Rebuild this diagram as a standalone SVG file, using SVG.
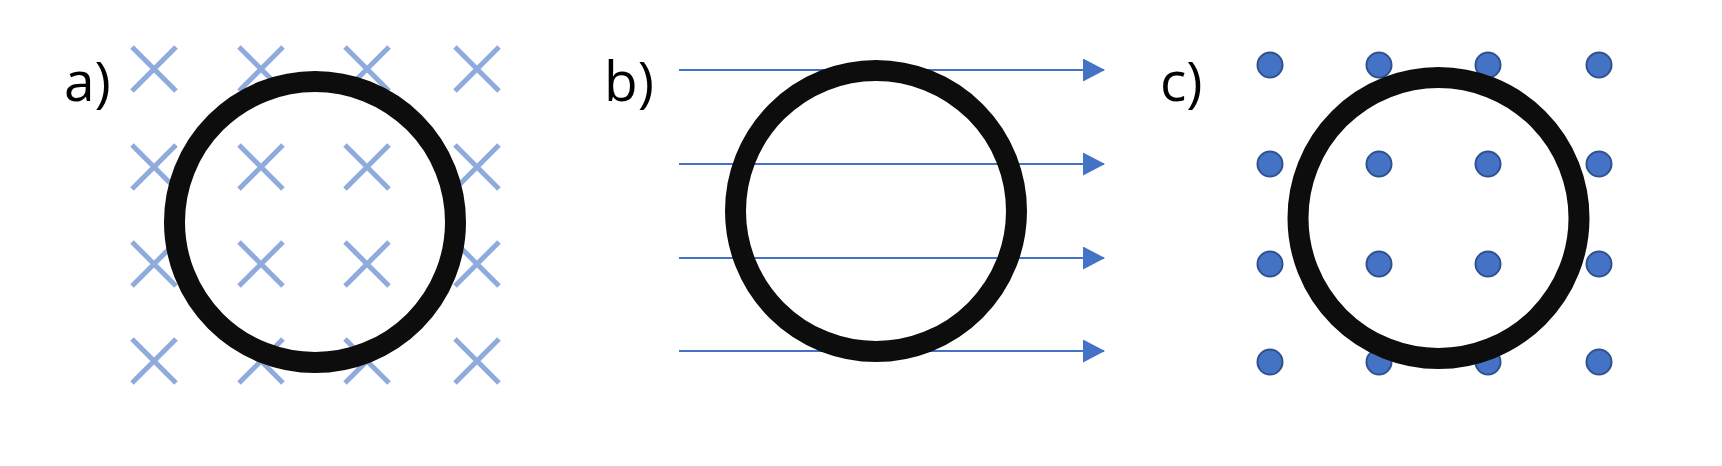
<svg xmlns="http://www.w3.org/2000/svg" width="1722" height="466" viewBox="0 0 1722 466">
<style>
.lbl{font-family:"Open Sans","Liberation Sans",sans-serif;font-size:55px;fill:#000}
.ring{fill:none;stroke:#0d0d0d;stroke-width:21}
.x{stroke:#8FAADC;stroke-width:5;fill:none}
.fl{stroke:#4472C4;stroke-width:2;fill:none}
.dot{fill:#4472C4;stroke:#2F528F;stroke-width:2}
</style>
<defs>
<marker id="ah" viewBox="0 0 22 23" refX="21" refY="11.5" markerWidth="22" markerHeight="23" markerUnits="userSpaceOnUse" orient="auto">
<path d="M0,0 L22,11.5 L0,23 z" fill="#4472C4"/>
</marker>
<path id="cross" d="M-22,-22 L22,22 M-22,22 L22,-22"/>
</defs>
<rect width="1722" height="466" fill="#fff"/>
<g id="panel-a">
<text class="lbl" x="64" y="101">a)</text>
<g class="x">
<use href="#cross" x="154" y="69"/><use href="#cross" x="261" y="69"/><use href="#cross" x="367" y="69"/><use href="#cross" x="477" y="69"/>
<use href="#cross" x="154" y="167"/><use href="#cross" x="261" y="167"/><use href="#cross" x="367" y="167"/><use href="#cross" x="477" y="167"/>
<use href="#cross" x="154" y="264"/><use href="#cross" x="261" y="264"/><use href="#cross" x="367" y="264"/><use href="#cross" x="477" y="264"/>
<use href="#cross" x="154" y="361"/><use href="#cross" x="261" y="361"/><use href="#cross" x="367" y="361"/><use href="#cross" x="477" y="361"/>
</g>
<circle class="ring" cx="315" cy="222" r="140.5"/>
</g>
<g id="connectors">
<line class="fl" x1="679" y1="70" x2="1104" y2="70" marker-end="url(#ah)"/>
<line class="fl" x1="679" y1="164" x2="1104" y2="164" marker-end="url(#ah)"/>
<line class="fl" x1="679" y1="258" x2="1104" y2="258" marker-end="url(#ah)"/>
<line class="fl" x1="679" y1="351" x2="1104" y2="351" marker-end="url(#ah)"/>
</g>
<g id="panel-b">
<text class="lbl" x="604" y="101">b)</text>
<circle class="ring" cx="876" cy="211" r="140.5"/>
</g>
<g id="panel-c">
<text class="lbl" x="1160" y="101">c)</text>
<g>
<circle class="dot" cx="1270" cy="65" r="12.5"/><circle class="dot" cx="1379" cy="65" r="12.5"/><circle class="dot" cx="1488" cy="65" r="12.5"/><circle class="dot" cx="1599" cy="65" r="12.5"/>
<circle class="dot" cx="1270" cy="164" r="12.5"/><circle class="dot" cx="1379" cy="164" r="12.5"/><circle class="dot" cx="1488" cy="164" r="12.5"/><circle class="dot" cx="1599" cy="164" r="12.5"/>
<circle class="dot" cx="1270" cy="264" r="12.5"/><circle class="dot" cx="1379" cy="264" r="12.5"/><circle class="dot" cx="1488" cy="264" r="12.5"/><circle class="dot" cx="1599" cy="264" r="12.5"/>
<circle class="dot" cx="1270" cy="362" r="12.5"/><circle class="dot" cx="1379" cy="362" r="12.5"/><circle class="dot" cx="1488" cy="362" r="12.5"/><circle class="dot" cx="1599" cy="362" r="12.5"/>
</g>
<circle class="ring" cx="1438.5" cy="218" r="140.5"/>
</g>
</svg>
